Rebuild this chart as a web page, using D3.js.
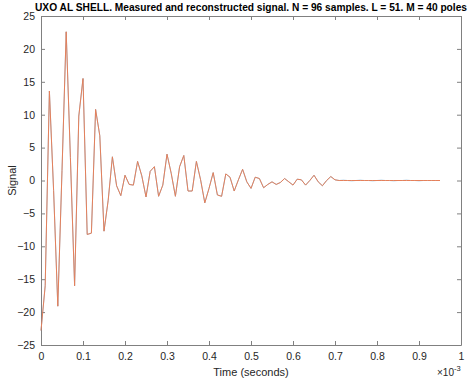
<!DOCTYPE html>
<html><head><meta charset="utf-8">
<script src="https://cdn.jsdelivr.net/npm/d3@7"></script>
<style>html,body{margin:0;padding:0;background:#fff;}svg{display:block;font-family:"Liberation Sans",Arial,Helvetica,sans-serif;}</style>
</head><body>
<svg id="c" width="474" height="384"></svg>
<script>
// Time axis: sample times in units of 1e-3 s
const timeStep = 0.01;
const measured = [
 -22.8,-16.0,13.6,-1.5,-19.1,1.5,22.6,3.5,-16.0,9.8,
 15.5,-8.2,-8.0,10.8,6.8,-7.7,-3.0,3.6,-0.8,-2.3,
 0.8,-0.6,-0.7,2.9,0.7,-2.5,1.4,2.1,-2.4,-0.7,
 4.0,1.1,-2.4,2.1,3.8,-1.6,-1.6,2.9,0.1,-3.4,
 -1.2,1.2,-2.2,-2.4,1.0,0.5,-1.6,0.1,1.7,-0.2,
 -1.2,0.5,0.3,-1.1,-0.6,-0.2,-0.6,-0.3,0.3,-0.2,
 -0.7,0.2,0.1,-0.7,0.0,0.8,-0.2,-0.8,0.0,0.6,
 0.1,0.0,0.05,0.0,-0.05,0.0,0.05,0.0,0.0,-0.05,
 0.0,0.05,0.0,0.0,-0.05,0.0,0.0,0.05,0.0,0.0,
 -0.05,0.0,0.0,0.0,0.0,0.0
];
const reconstructed = [
 -22.8,-16.0,13.6,-1.5,-19.1,1.5,22.6,3.5,-16.0,9.8,
 15.5,-8.2,-8.0,10.8,6.8,-7.7,-3.0,3.6,-0.8,-2.3,
 0.8,-0.6,-0.7,2.9,0.7,-2.5,1.4,2.1,-2.4,-0.7,
 4.0,1.1,-2.4,2.1,3.8,-1.6,-1.6,2.9,0.1,-3.4,
 -1.2,1.2,-2.2,-2.4,1.0,0.5,-1.6,0.1,1.7,-0.2,
 -1.2,0.5,0.3,-1.1,-0.6,-0.2,-0.6,-0.3,0.3,-0.2,
 -0.7,0.2,0.1,-0.7,0.0,0.8,-0.2,-0.8,0.0,0.6,
 0.1,0.0,0.0,0.0,0.0,0.0,0.0,0.0,0.0,0.0,
 0.0,0.0,0.0,0.0,0.0,0.0,0.0,0.0,0.0,0.0,
 0.0,0.0,0.0,0.0,0.0,0.0
];
const xTicks = [0,0.1,0.2,0.3,0.4,0.5,0.6,0.7,0.8,0.9,1];
const yTicks = [-25,-20,-15,-10,-5,0,5,10,15,20,25];
const titleText = "UXO AL SHELL. Measured and reconstructed signal. N = 96 samples. L = 51. M = 40 poles";

const svg = d3.select("#c");
const L = 41, R = 461, T = 16, B = 345;
const x = d3.scaleLinear().domain([0,1]).range([L,R]);
const y = d3.scaleLinear().domain([-25,25]).range([B,T]);
const axisCol = "#808080", textCol = "#262626";

// axes
const tl = 4;
const gx = svg.append("g").attr("transform",`translate(0,${B})`)
  .call(d3.axisBottom(x).tickValues(xTicks).tickSizeInner(-tl).tickSizeOuter(0).tickPadding(8).tickFormat(d=>d3.format("")(+d.toFixed(1))));
const gxt = svg.append("g").attr("transform",`translate(0,${T})`)
  .call(d3.axisTop(x).tickValues(xTicks).tickSizeInner(-tl).tickSizeOuter(0).tickFormat(""));
const gy = svg.append("g").attr("transform",`translate(${L},0)`)
  .call(d3.axisLeft(y).tickValues(yTicks).tickSizeInner(-tl).tickSizeOuter(0).tickPadding(6));
const gyr = svg.append("g").attr("transform",`translate(${R},0)`)
  .call(d3.axisRight(y).tickValues(yTicks).tickSizeInner(-tl).tickSizeOuter(0).tickFormat(""));
[gx,gxt,gy,gyr].forEach(g=>{
  g.select(".domain").attr("stroke",axisCol).attr("stroke-width",1);
  g.selectAll(".tick line").attr("stroke",axisCol);
  g.selectAll(".tick text").attr("fill",textCol).attr("font-size","10.5px").attr("font-family","Liberation Sans, Arial, sans-serif");
});

// lines
const line = d3.line().x((d,i)=>x(i*timeStep)).y(d=>y(d));
svg.append("path").datum(measured).attr("d",line).attr("fill","none")
  .attr("stroke","#0072BD").attr("stroke-width",0.4);
svg.append("path").datum(reconstructed).attr("d",line).attr("fill","none")
  .attr("stroke","#e6805a").attr("stroke-width",1);

// title
svg.append("text").attr("x",(L+R)/2).attr("y",11).attr("text-anchor","middle")
  .attr("font-weight","bold").attr("font-size","10px").attr("fill","#000")
  .attr("textLength",432).attr("lengthAdjust","spacingAndGlyphs").text(titleText);
// x label
svg.append("text").attr("x",(L+R)/2).attr("y",376).attr("text-anchor","middle")
  .attr("font-size","11px").attr("fill",textCol).text("Time (seconds)");
// y label
svg.append("text").attr("transform",`translate(16,${(T+B)/2}) rotate(-90)`).attr("text-anchor","middle")
  .attr("font-size","11px").attr("fill",textCol).text("Signal");
// exponent
const ex = svg.append("text").attr("x",437).attr("y",376).attr("font-size","10px").attr("fill",textCol);
ex.append("tspan").text("\u00d710");
ex.append("tspan").attr("dy",-5).attr("font-size","7.5px").text("-3");
</script>
</body></html>
